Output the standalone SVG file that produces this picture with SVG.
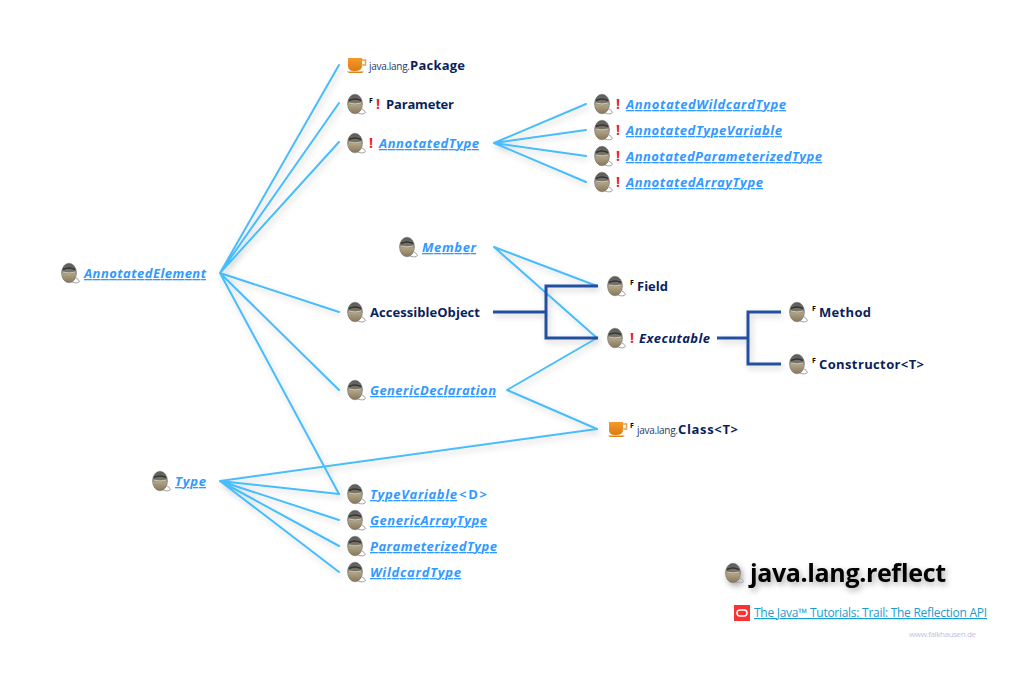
<svg xmlns="http://www.w3.org/2000/svg" width="1034" height="680" viewBox="0 0 1034 680">
<style>
text{font-family:"Open Sans","Noto Sans","Liberation Sans",sans-serif;font-size:13px;font-weight:700;fill:#0a1f5c}
.l{fill:#3399ff;font-style:italic;text-decoration:underline}
.i{font-style:italic}
.g{fill:#3399ff}
.x{fill:#ee1c25;font-size:14px}
.f{fill:#000;font-size:7px;font-weight:700}
.s{font-size:10px;font-weight:400;fill:#26386b}
.c{fill:none;stroke:#47bdfd;stroke-width:2;stroke-linecap:round}
.h{fill:none;stroke:#20509f;stroke-width:3}
</style>
<defs>
<linearGradient id="gi" x1="0" y1="0" x2="0" y2="1"><stop offset="0" stop-color="#5a5a58"/><stop offset=".42" stop-color="#77746a"/><stop offset=".55" stop-color="#b0a385"/><stop offset="1" stop-color="#85765a"/></linearGradient>
<linearGradient id="cup" x1="0" y1="0" x2="0" y2="1"><stop offset="0" stop-color="#f59a2c"/><stop offset="1" stop-color="#dd7a10"/></linearGradient>
<filter id="sh" x="-10%" y="-10%" width="120%" height="120%"><feGaussianBlur in="SourceAlpha" stdDeviation="3"/><feOffset dx="2" dy="3"/><feComponentTransfer><feFuncA type="linear" slope=".2"/></feComponentTransfer><feMerge><feMergeNode/><feMergeNode in="SourceGraphic"/></feMerge></filter>
<filter id="ts" x="-10%" y="-30%" width="120%" height="170%"><feGaussianBlur in="SourceAlpha" stdDeviation="3"/><feOffset dx="2" dy="3"/><feComponentTransfer><feFuncA type="linear" slope=".35"/></feComponentTransfer><feMerge><feMergeNode/><feMergeNode in="SourceGraphic"/></feMerge></filter>
<g id="dish"><path d="M3 9 Q8 11 10.500 8.500 Q9.500 6 7 5" fill="none" stroke="#a0a0a0" stroke-width="1"/><ellipse cx="0" cy="0" rx="7.500" ry="9.800" fill="url(#gi)" stroke="#666" stroke-width=".5"/><path d="M-6-3.500Q0-6.500 6-3.500" fill="none" stroke="#333" stroke-width="1.500"/><path d="M-6.500-1Q0 1 6.500-1" fill="none" stroke="#d0c8b0" stroke-width="1"/></g>
<g id="javacup"><path d="M-9 6.500H8L6 8H-7Z" fill="#d9861c"/><path d="M-8-7H6V1Q6 6-1 6H-2Q-8 6-8 1Z" fill="url(#cup)"/><path d="M6-5H9.500V0H5" fill="none" stroke="#e8a050" stroke-width="1.500"/></g>
</defs>
<rect width="1034" height="680" fill="#fff"/>
<g id="connectors" filter="url(#sh)">
<path class="c" d="M220 273L339 65M220 273L339 103M220 273L339 142M220 273L339 312M220 273L339 390M220 273L339 494"/>
<path class="c" d="M494 143L586 104M494 143L586 130M494 143L586 156M494 143L586 182"/>
<path class="c" d="M494 247L597 286M494 247L597 338M507 390L597 338M507 390L597 429"/>
<path class="c" d="M220 481L597 429M220 481L339 494M220 481L339 520M220 481L339 546M220 481L339 572"/>
<path class="h" d="M493 312H546M598 286H546V338H598"/>
<path class="h" d="M717 338H748M781 312H748V364H781"/>
</g>
<g id="AnnotatedElement"><use href="#dish" x="69" y="273"/><text class="l" x="84" y="278" textLength="122">AnnotatedElement</text></g>
<g id="Package"><use href="#javacup" x="356" y="65"/><text class="s" x="369" y="70" textLength="41">java.lang.</text><text x="410" y="70" textLength="55">Package</text></g>
<g id="Parameter"><use href="#dish" x="355" y="104"/><text class="f" x="369" y="103">F</text><text class="x" x="376" y="109">!</text><text x="386" y="109" textLength="68">Parameter</text></g>
<g id="AnnotatedType"><use href="#dish" x="355" y="143"/><text class="x" x="369" y="148">!</text><text class="l" x="379" y="148" textLength="100">AnnotatedType</text></g>
<g id="AnnotatedWildcardType"><use href="#dish" x="602" y="104"/><text class="x" x="616" y="109">!</text><text class="l" x="626" y="109" textLength="160">AnnotatedWildcardType</text></g>
<g id="AnnotatedTypeVariable"><use href="#dish" x="602" y="130"/><text class="x" x="616" y="135">!</text><text class="l" x="626" y="135" textLength="156">AnnotatedTypeVariable</text></g>
<g id="AnnotatedParameterizedType"><use href="#dish" x="602" y="156"/><text class="x" x="616" y="161">!</text><text class="l" x="626" y="161" textLength="196">AnnotatedParameterizedType</text></g>
<g id="AnnotatedArrayType"><use href="#dish" x="602" y="182"/><text class="x" x="616" y="187">!</text><text class="l" x="626" y="187" textLength="137">AnnotatedArrayType</text></g>
<g id="Member"><use href="#dish" x="407" y="247"/><text class="l" x="422" y="252" textLength="54">Member</text></g>
<g id="AccessibleObject"><use href="#dish" x="355" y="312"/><text x="370" y="317" textLength="110">AccessibleObject</text></g>
<g id="Field"><use href="#dish" x="615" y="286"/><text class="f" x="630" y="285">F</text><text x="637" y="291" textLength="31">Field</text></g>
<g id="Executable"><use href="#dish" x="615" y="338"/><text class="x" x="630" y="343">!</text><text class="i" x="639" y="343" textLength="71">Executable</text></g>
<g id="Method"><use href="#dish" x="797" y="312"/><text class="f" x="812" y="311">F</text><text x="819" y="317" textLength="52">Method</text></g>
<g id="Constructor"><use href="#dish" x="797" y="364"/><text class="f" x="812" y="363">F</text><text x="819" y="369" textLength="105">Constructor&lt;T&gt;</text></g>
<g id="GenericDeclaration"><use href="#dish" x="355" y="390"/><text class="l" x="370" y="395" textLength="126">GenericDeclaration</text></g>
<g id="Class"><use href="#javacup" x="617" y="429"/><text class="f" x="630" y="428">F</text><text class="s" x="637" y="434" textLength="41">java.lang.</text><text x="678" y="434" textLength="60">Class&lt;T&gt;</text></g>
<g id="Type"><use href="#dish" x="160" y="481"/><text class="l" x="175" y="486" textLength="31">Type</text></g>
<g id="TypeVariable"><use href="#dish" x="355" y="494"/><text class="l" x="370" y="499" textLength="87">TypeVariable</text><text class="g" x="459" y="499" textLength="28">&lt;D&gt;</text></g>
<g id="GenericArrayType"><use href="#dish" x="355" y="520"/><text class="l" x="370" y="525" textLength="117">GenericArrayType</text></g>
<g id="ParameterizedType"><use href="#dish" x="355" y="546"/><text class="l" x="370" y="551" textLength="127">ParameterizedType</text></g>
<g id="WildcardType"><use href="#dish" x="355" y="572"/><text class="l" x="370" y="577" textLength="91">WildcardType</text></g>
<g id="title" filter="url(#ts)"><use href="#dish" x="733" y="573"/><text x="750" y="582" textLength="196" style="font-size:25px;fill:#000">java.lang.reflect</text></g>
<g id="tutorial"><rect x="734" y="605" width="16" height="16" fill="#f93333"/><rect x="737" y="610" width="10" height="6" rx="3" fill="none" stroke="#fff" stroke-width="1.500"/><text x="754" y="617" textLength="233" style="font-size:12px;font-weight:400;fill:#1a9ccf;text-decoration:underline">The Java™ Tutorials: Trail: The Reflection API</text></g>
<g id="credit"><text x="909" y="637" textLength="67" style="font-size:8px;font-weight:400;fill:#c0c4d8">www.falkhausen.de</text></g>
</svg>
